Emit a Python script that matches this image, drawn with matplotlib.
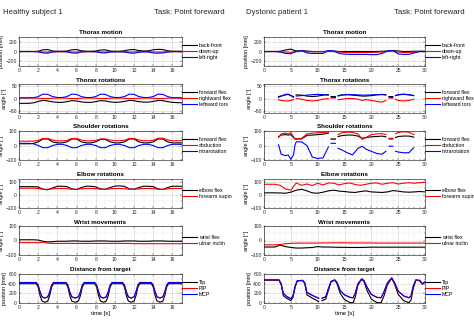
import numpy as np
import matplotlib
matplotlib.use('Agg')
import matplotlib.pyplot as plt
from matplotlib.ticker import MultipleLocator

plt.rcParams['font.family'] = ['Liberation Sans', 'DejaVu Sans']
plt.rcParams['axes.linewidth'] = 0.45

nan = np.nan

# ---------------- Healthy subject 1 (0-17 s, 0.5 s samples) ----------------
t_h = np.arange(0, 17.01, 0.5)

h_back_front = [0, 0, 0, 0, 5, 35, 40, 10, 5, 5, 10, 35, 40, 15, 5, 5, 10, 30, 35, 10,
                5, 5, 15, 35, 40, 20, 10, 15, 35, 45, 40, 15, 5, 5, 5]
h_down_up = [0, 0, 0, 0, -5, -10, -10, -5, -5, -5, -5, -10, -10, -5, -5, -5, -5, -10, -10, -5,
             -5, -5, -5, -10, -10, -5, -5, -5, -10, -10, -10, -5, -5, -5, -5]
h_left_right = [0, 0, 0, 0, -5, -30, -35, -10, 0, 0, -5, -30, -35, -10, 0, 0, -5, -25, -30, -10,
                -5, -5, -10, -30, -35, -15, -5, -10, -30, -35, -30, -10, 0, 0, 0]

h_thx_fwd = [-20, -20, -20, -18, -12, -8, -10, -14, -16, -16, -13, -9, -10, -14, -16, -16, -13, -9,
             -10, -14, -16, -15, -12, -8, -9, -13, -15, -15, -12, -8, -9, -13, -16, -17, -18]
h_thx_right = [2, 2, 2, 2, 1, 0, 0, 1, 2, 2, 1, 0, 0, 1, 2, 2, 1, 0, 0, 1,
               2, 2, 1, 0, 0, 1, 2, 2, 1, 0, 0, 1, 2, 2, 2]
h_thx_tors = [3, 3, 3, 3, 8, 18, 17, 8, 4, 4, 8, 18, 17, 8, 4, 4, 8, 18, 17, 8,
              4, 4, 8, 18, 17, 8, 4, 4, 8, 18, 17, 8, 3, 3, 3]

h_sh_fwd = [12, 12, 12, 14, 25, 45, 45, 25, 18, 18, 25, 45, 45, 25, 18, 18, 25, 42, 42, 25,
            18, 18, 25, 45, 45, 25, 18, 18, 25, 45, 45, 25, 18, 18, 18]
h_sh_abd = [30, 30, 30, 30, 35, 48, 48, 38, 32, 32, 35, 48, 48, 38, 32, 32, 35, 45, 45, 38,
            33, 33, 36, 48, 48, 38, 33, 33, 36, 50, 50, 38, 33, 33, 33]
h_sh_intra = [15, 15, 15, 12, 0, -15, -15, 0, 8, 8, 0, -15, -15, 0, 8, 8, 0, -15, -15, 0,
              8, 8, 0, -15, -15, 0, 8, 8, 0, -15, -15, 0, 8, 8, 8]

h_elb_flex = [62, 62, 62, 62, 60, 42, 38, 52, 65, 65, 62, 45, 40, 55, 65, 65, 60, 45, 42, 55,
              66, 68, 64, 45, 42, 55, 65, 65, 62, 45, 40, 55, 65, 65, 65]
h_elb_sup = [50, 50, 50, 50, 48, 42, 42, 45, 48, 48, 47, 42, 42, 45, 48, 48, 47, 42, 42, 45,
             48, 48, 47, 42, 42, 45, 48, 48, 47, 42, 42, 45, 48, 48, 48]

h_wr_flex = [5, 5, 5, 5, 3, -5, -10, -8, -5, -5, -5, -3, -3, -5, -5, -5, -3, -3, -3, -5,
             -5, -5, -3, -3, -3, -5, -5, -5, -3, -3, -3, -5, -5, -5, -5]
h_wr_uln = [-15, -15, -15, -15, -15, -12, -18, -20, -20, -20, -20, -20, -20, -20, -20, -20, -20, -20,
            -20, -20, -20, -20, -20, -20, -22, -22, -22, -22, -22, -22, -22, -22, -22, -22, -22]

t_h_dist = [0, 1.8, 2.0, 2.2, 2.4, 2.7, 3.0, 3.2, 3.4, 3.6,
            4.9, 5.1, 5.3, 5.5, 5.85, 6.2, 6.4, 6.6, 6.8,
            7.9, 8.1, 8.3, 8.5, 8.8, 9.1, 9.3, 9.5, 9.7,
            10.8, 11.0, 11.2, 11.4, 11.7, 12.0, 12.2, 12.4, 12.6,
            13.8, 14.0, 14.2, 14.4, 14.7, 15.0, 15.2, 15.4, 15.6, 17]
h_tip = [400, 400, 330, 150, 40, 15, 40, 150, 330, 400,
         400, 330, 150, 40, 15, 40, 150, 330, 400,
         400, 330, 150, 40, 15, 40, 150, 330, 400,
         400, 330, 150, 40, 15, 40, 150, 330, 400,
         400, 330, 150, 40, 15, 40, 150, 330, 400, 400]
h_pip = [420, 420, 365, 225, 125, 100, 125, 225, 365, 420,
         420, 365, 225, 125, 100, 125, 225, 365, 420,
         420, 365, 225, 125, 100, 125, 225, 365, 420,
         420, 365, 225, 125, 100, 125, 225, 365, 420,
         420, 365, 225, 125, 100, 125, 225, 365, 420, 420]
h_mcp = [425, 425, 370, 230, 130, 105, 130, 230, 370, 425,
         425, 370, 230, 130, 105, 130, 230, 370, 425,
         425, 370, 230, 130, 105, 130, 230, 370, 425,
         425, 370, 230, 130, 105, 130, 230, 370, 425,
         425, 370, 230, 130, 105, 130, 230, 370, 425, 425]

# ---------------- Dystonic patient 1 (0-30 s) ----------------
t_d = np.arange(0, 30.01, 1.0)

d_back_front = [0, 0, 0, 5, 30, 50, 10, 20, 10, 0, 0, 0, 10, 10, 0, 0, 0, 0, 0, 0,
                0, 0, 5, 10, 20, 10, 0, 0, 5, 5, 5]
d_down_up = [0, 0, 0, -5, -10, -15, 0, 10, -5, -5, -5, -5, 5, 0, -10, -20, -20, -20, -20, -20,
             -20, -15, -10, 5, 10, -10, -20, -20, -10, 0, 0]
d_left_right = [0, 0, 0, -10, -40, -45, 0, 20, -30, -40, -40, -40, 20, 10, -40, -55, -60, -60, -60, -60,
                -65, -65, -40, 10, 20, -50, -60, -60, -30, 0, 0]

# segmented recordings (marker dropouts -> NaN)
t_seg = [2.7, 3.2, 4.0, 4.5, 5.0, 5.5, 5.75, 6.0, 7.0, 8.0, 9.0, 10.0, 11.0, 12.0, 12.25,
         12.5, 13.3, 13.55, 13.8, 14.5, 15.5, 16.5, 17.5, 18.3, 19.0, 20.0, 21.0, 22.0, 22.7,
         23.0, 23.3, 24.0, 24.25, 24.5, 25.0, 26.0, 27.0, 27.9]

d_thx_fwd = [8, 10, 15, 17, 12, 8, nan, 15, 14, 10, 8, 10, 14, 16, nan,
             8, 8, nan, 12, 15, 16, 14, 12, 10, 10, 12, 15, 17, 16,
             nan, 8, 8, nan, 12, 15, 17, 15, 12]
d_thx_right = [-5, -8, -10, -10, -8, -5, nan, 0, -3, -8, -10, -8, -3, 0, nan,
               2, 2, nan, -5, -3, 0, 0, -3, -8, -5, -8, -12, -15, -8,
               nan, 2, 2, nan, -3, -8, -10, -8, -3]
d_thx_tors = [5, 10, 17, 18, 12, 5, nan, 10, 12, 14, 16, 17, 16, 14, nan,
              5, 5, nan, 10, 14, 16, 16, 15, 14, 14, 15, 16, 16, 14,
              nan, 5, 5, nan, 12, 16, 18, 16, 12]

d_sh_fwd = [60, 72, 75, 72, 75, 55, 45, 45, 45, 70, 72, 75, 78, 85, nan,
            45, 45, nan, 62, 68, 72, 72, 65, 50, 55, 60, 62, 65, 60,
            nan, 45, 45, nan, 55, 62, 65, 65, 58]
d_sh_abd = [55, 80, 85, 80, 88, 60, 45, 45, 48, 80, 85, 88, 90, 92, nan,
            42, 42, nan, 75, 88, 92, 90, 80, 42, 55, 75, 80, 82, 75,
            nan, 50, 50, nan, 80, 90, 95, 92, 75]
d_sh_intra = [5, -60, -70, -65, -95, -65, 0, 25, 25, 0, -80, -90, -85, -10, nan,
              15, 15, nan, -20, -30, -50, -65, -20, -5, -25, -40, -55, -60, -40,
              nan, -5, -5, nan, -40, -45, -50, -50, -15]

d_elb_flex = [15, 15, 15, 14, 12, 20, 35, 42, 30, 15, 12, 20, 30, 35, 28, 25, 20, 18, 25, 30,
              22, 20, 18, 22, 32, 28, 22, 20, 22, 25, 22]
d_elb_sup = [80, 80, 80, 72, 45, 35, 90, 72, 82, 70, 88, 75, 90, 88, 75, 85, 90, 78, 72, 80,
             88, 90, 80, 88, 92, 82, 88, 92, 88, 92, 95]

d_wr_flex = [-45, -45, -45, -32, -42, -48, -52, -52, -50, -48, -42, -45, -45, -46, -47, -47, -48, -48,
             -48, -47, -46, -46, -46, -46, -46, -46, -46, -46, -46, -46, -46]
d_wr_uln = [-30, -30, -30, -28, -22, -20, -18, -18, -18, -18, -18, -17, -17, -16, -16, -16, -17, -17,
            -17, -17, -17, -18, -18, -18, -18, -18, -18, -18, -18, -18, -18]

t_d_dist = [0, 2.8, 3.2, 3.6, 4.2, 5.0, 5.4, 5.8, 6.2, 7.2, 7.6, 8.0, 9.0, 10.2, 10.5,
            10.8, 11.5, 12.0, 12.5, 13.2, 13.6, 14.2, 15.0, 16.0, 16.6, 17.0, 17.5, 18.2,
            18.6, 19.2, 20.0, 21.0, 21.8, 22.3, 23.0, 23.8, 24.3, 25.0, 26.0, 27.0, 27.4,
            27.8, 28.3, 29.0, 29.5, 30.0]
d_tip = [470, 470, 380, 150, 100, 50, 120, 330, 460, 465, 400, 170, 100, 30, nan,
         50, 80, 260, 440, 470, 400, 200, 70, 10, 5, 120, 370, 490,
         450, 260, 80, 10, 5, 130, 380, 510, 400, 180, 50, 5, 60,
         300, 470, 460, 390, 430]
d_pip = [475, 475, 395, 195, 135, 85, 145, 345, 455, 465, 415, 215, 155, 95, nan,
         95, 125, 295, 445, 475, 425, 255, 165, 115, 105, 195, 395, 495,
         465, 325, 175, 115, 105, 215, 415, 515, 425, 245, 145, 105, 145,
         345, 475, 465, 395, 435]
d_mcp = [480, 480, 400, 200, 140, 90, 150, 350, 460, 470, 420, 220, 160, 100, nan,
         100, 130, 300, 450, 480, 430, 260, 170, 120, 110, 200, 400, 500,
         470, 330, 180, 120, 110, 220, 420, 520, 430, 250, 150, 110, 150,
         350, 480, 470, 400, 440]

COLORS = {'k': '#000000', 'r': '#ff0000', 'b': '#0000ff', 'grid': '#d0d0d0', 'axis': '#262626'}
LW = 0.8

W, H = 474, 325
fig = plt.figure(figsize=(W / 100, H / 100), dpi=100)
fig.patch.set_facecolor('white')


def px_rect(x0, top, w, h):
    return [x0 / W, 1 - (top + h) / H, w / W, h / H]


def style_axes(ax, title, ylabel, ylim, yticks, xlim, xticks, xminor):
    ax.set_xlim(*xlim)
    ax.set_ylim(*ylim)
    ax.set_xticks(xticks)
    ax.set_yticks(yticks)
    ax.xaxis.set_minor_locator(MultipleLocator(xminor))
    ax.yaxis.set_minor_locator(MultipleLocator((yticks[1] - yticks[0]) / 2))
    ax.grid(True, which='major', color=COLORS['grid'], lw=0.4)
    ax.grid(True, which='minor', color=COLORS['grid'], lw=0.35, ls=':')
    ax.set_axisbelow(True)
    ax.tick_params(which='both', direction='in', top=True, right=True,
                   labelsize=3.6, length=1.5, width=0.3, pad=1.5, colors=COLORS['axis'])
    ax.tick_params(which='minor', length=0.8)
    for s in ax.spines.values():
        s.set_color(COLORS['axis'])
    ax.set_title(title, fontsize=4.5, fontweight='bold', pad=1.8)
    ax.set_ylabel(ylabel, fontsize=4.0, labelpad=0.8)


def add_legend(ax):
    ax.legend(loc='center left', bbox_to_anchor=(1.0, 0.5), frameon=False,
              fontsize=3.8, handlelength=2.8, handletextpad=0.4,
              labelspacing=0.2, borderaxespad=0.0, borderpad=0.0)


tops = [37, 84, 131, 179, 226, 274]
ax_h = 29

panels = [
    dict(x0=19, w=163, xlim=(0, 17), xticks=np.arange(0, 17, 2), xminor=1,
         t=t_h, t_dist=t_h_dist,
         motion=(h_back_front, h_down_up, h_left_right),
         thx=(t_h, h_thx_fwd, h_thx_right, h_thx_tors),
         sh=(t_h, h_sh_fwd, h_sh_abd, h_sh_intra),
         elb=(h_elb_flex, h_elb_sup), wr=(h_wr_flex, h_wr_uln),
         dist=(h_tip, h_pip, h_mcp)),
    dict(x0=264, w=161, xlim=(0, 30), xticks=np.arange(0, 31, 5), xminor=1,
         t=t_d, t_dist=t_d_dist,
         motion=(d_back_front, d_down_up, d_left_right),
         thx=(t_seg, d_thx_fwd, d_thx_right, d_thx_tors),
         sh=(t_seg, d_sh_fwd, d_sh_abd, d_sh_intra),
         elb=(d_elb_flex, d_elb_sup), wr=(d_wr_flex, d_wr_uln),
         dist=(d_tip, d_pip, d_mcp)),
]

for p in panels:
    axes = [fig.add_axes(px_rect(p['x0'], top, p['w'], ax_h)) for top in tops]
    xa = dict(xlim=p['xlim'], xticks=p['xticks'], xminor=p['xminor'])
    t = p['t']

    # thorax motion
    ax = axes[0]
    bf, du, lr = p['motion']
    ax.plot(t, bf, color=COLORS['k'], lw=LW, label='back-front')
    ax.plot(t, du, color=COLORS['r'], lw=LW, label='down-up')
    ax.plot(t, lr, color=COLORS['b'], lw=LW, label='left-right')
    style_axes(ax, 'Thorax motion', 'position [mm]', (-300, 300), [-200, 0, 200], **xa)
    add_legend(ax)

    # thorax rotations
    ax = axes[1]
    ts, a, b, c = p['thx']
    ax.plot(ts, a, color=COLORS['k'], lw=LW, label='forward flex')
    ax.plot(ts, b, color=COLORS['r'], lw=LW, label='rightward flex')
    ax.plot(ts, c, color=COLORS['b'], lw=LW, label='leftward tors')
    style_axes(ax, 'Thorax rotations', 'angle [°]', (-60, 60), [-50, 0, 50], **xa)
    add_legend(ax)

    # shoulder rotations
    ax = axes[2]
    ts, a, b, c = p['sh']
    ax.plot(ts, a, color=COLORS['k'], lw=LW, label='forward flex')
    ax.plot(ts, b, color=COLORS['r'], lw=LW, label='abduction')
    ax.plot(ts, c, color=COLORS['b'], lw=LW, label='intrarotation')
    style_axes(ax, 'Shoulder rotations', 'angle [°]', (-100, 100), [-100, 0, 100], **xa)
    add_legend(ax)

    # elbow rotations
    ax = axes[3]
    a, b = p['elb']
    ax.plot(t, a, color=COLORS['k'], lw=LW, label='elbow flex')
    ax.plot(t, b, color=COLORS['r'], lw=LW, label='forearm supin')
    style_axes(ax, 'Elbow rotations', 'angle [°]', (-100, 120), [-100, 0, 100], **xa)
    add_legend(ax)

    # wrist movements
    ax = axes[4]
    a, b = p['wr']
    ax.plot(t, a, color=COLORS['k'], lw=LW, label='wrist flex')
    ax.plot(t, b, color=COLORS['r'], lw=LW, label='ulnar inclin')
    style_axes(ax, 'Wrist movements', 'angle [°]', (-100, 100), [-100, 0, 100], **xa)
    add_legend(ax)

    # distance from target
    ax = axes[5]
    tip, pip, mcp = p['dist']
    ax.plot(p['t_dist'], tip, color=COLORS['k'], lw=LW, label='Tip')
    ax.plot(p['t_dist'], pip, color=COLORS['r'], lw=LW, label='PIP')
    ax.plot(p['t_dist'], mcp, color=COLORS['b'], lw=LW, label='MCP')
    style_axes(ax, 'Distance from target', 'position [mm]', (0, 600), [0, 200, 400, 600], **xa)
    ax.set_xlabel('time [s]', fontsize=4.2, labelpad=1.0)
    add_legend(ax)

# headers
hdr = dict(fontsize=5.6, va='center', color='#262626')
fig.text(3 / W, 1 - 12 / H, 'Healthy subject 1', ha='left', **hdr)
fig.text(225 / W, 1 - 12 / H, 'Task: Point foreward', ha='right', **hdr)
fig.text(246 / W, 1 - 12 / H, 'Dystonic patient 1', ha='left', **hdr)
fig.text(465 / W, 1 - 12 / H, 'Task: Point foreward', ha='right', **hdr)

fig.savefig('out.png', dpi=100, facecolor='white')
